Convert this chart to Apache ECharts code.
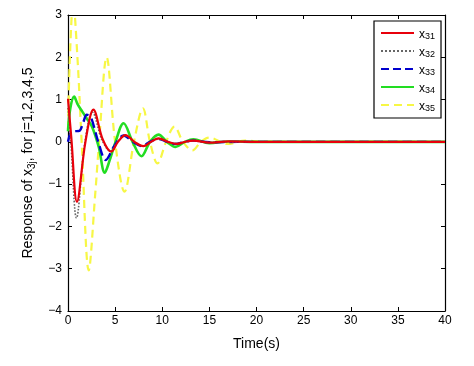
<!DOCTYPE html>
<html><head><meta charset="utf-8">
<script src="https://cdn.jsdelivr.net/npm/echarts@6/dist/echarts.min.js"></script>
<style>html,body{margin:0;padding:0;background:#fff}#c{width:474px;height:366px}</style>
</head><body><div id="c"></div>
<script>
var seriesNames = ['31', '32', '33', '34', '35'];
var xTicks = [0, 5, 10, 15, 20, 25, 30, 35, 40];
var yTicks = [-4, -3, -2, -1, 0, 1, 2, 3];
var x31 = [[0,1.02],[0.35,0.1],[0.95,-1.42],[1.85,0],[2.7,0.76],[3.7,0.05],[4.6,-0.23],[5.3,0],[6.1,0.16],[7.05,0],[8.0,-0.1],[8.8,0],[9.6,0.08],[10.6,0],[11.5,-0.05],[12.4,0],[13.3,0.03],[15,-0.02],[17,0.01],[20,0],[40,0]];
var x32 = [[0,0.8],[0.3,0],[0.9,-1.8],[1.8,0],[2.6,0.7],[3.6,0.05],[4.5,-0.22],[5.25,0],[6.05,0.15],[7.0,0],[7.95,-0.1],[8.75,0],[9.55,0.06],[11.5,-0.04],[13.3,0.02],[15,-0.01],[18,0],[40,0]];
var x33 = [[0,0.0],[0.3,0.22],[0.6,0.25],[1.2,0.26],[1.6,0.45],[2.0,0.64],[2.4,0.6],[3.25,-0.03],[4.0,-0.43],[4.9,-0.1],[5.9,0.15],[6.9,0],[7.8,-0.1],[8.7,0],[9.6,0.07],[10.5,0],[11.4,-0.05],[12.3,0],[13.2,0.03],[15,-0.01],[18,0],[40,0]];
var x34 = [[0,0.25],[0.25,0.8],[0.65,1.07],[1.0,0.9],[1.5,0.72],[2.0,0.55],[2.55,0.36],[3.25,-0.11],[3.9,-0.73],[4.4,-0.45],[5.0,-0.03],[5.9,0.44],[6.85,0],[7.8,-0.34],[8.7,0],[9.6,0.17],[10.5,0],[11.4,-0.12],[12.4,0],[13.3,0.06],[15,-0.03],[17,0.01],[20,0],[40,0]];
var x35 = [[0,0.3],[0.2,2.0],[0.55,3.3],[1.0,2.0],[1.45,0],[2.2,-3.04],[2.9,-1.2],[3.3,0],[4.1,2.0],[5.0,0],[6.0,-1.18],[7.0,0],[7.95,0.79],[8.7,0],[9.5,-0.51],[10.4,0],[11.3,0.36],[12.2,0],[13.2,-0.2],[14.1,0],[15,0.1],[16.9,-0.05],[18.8,0.03],[21,0],[40,0]];
var dataList = [x31, x32, x33, x34, x35];
var colors = ['#e8000b', '#666666', '#0000cc', '#22dd22', '#f7f745'];
var types = ['solid', 'dotted', 'dashed', 'solid', [8, 5]];
var widths = [2.2, 1.6, 2.4, 2.6, 2.2];

var font = 'Liberation Sans, Arial, sans-serif';
var chart = echarts.init(document.getElementById('c'));
var series = seriesNames.map(function (n, i) {
  return {
    name: n, type: 'line', data: dataList[i], smooth: 0.35, symbol: 'none',
    clip: true, z: 10 - i,
    lineStyle: { color: colors[i], width: widths[i], type: types[i] },
    itemStyle: { color: colors[i] }
  };
});
function axisCommon() {
  return {
    axisLine: { show: true, onZero: false, lineStyle: { color: '#000', width: 1.2 } },
    axisTick: { show: true, inside: true, length: 4, lineStyle: { color: '#000' } },
    splitLine: { show: false }
  };
}
chart.setOption({
  animation: false,
  grid: { left: 68, right: 29, top: 15, bottom: 55 },
  legend: {
    orient: 'vertical', left: 374, top: 21, width: 65,
    padding: [5, 6, 5, 6], itemGap: 3, itemWidth: 33, itemHeight: 16,
    borderColor: '#000', borderWidth: 1.2, backgroundColor: '#fff',
    itemStyle: { opacity: 0 },
    data: seriesNames,
    formatter: function (n) { return '{a|x}{b|' + n + '}'; },
    textStyle: {
      fontFamily: font, color: '#000',
      rich: { a: { fontSize: 12, fontFamily: font, verticalAlign: 'bottom', lineHeight: 16 },
              b: { fontSize: 9, fontFamily: font, verticalAlign: 'bottom', lineHeight: 10, padding: [6, 0, 0, 0] } }
    }
  },
  xAxis: [
    Object.assign(axisCommon(), {
      type: 'value', min: 0, max: 40, interval: 5,
      name: 'Time(s)', nameLocation: 'middle', nameGap: 26,
      nameTextStyle: { fontFamily: font, fontSize: 14, color: '#000' },
      axisLabel: { fontFamily: font, fontSize: 12, color: '#000', margin: 4,
        formatter: function (v) { return xTicks.indexOf(v) >= 0 ? String(v) : ''; } }
    }),
    Object.assign(axisCommon(), {
      type: 'value', min: 0, max: 40, interval: 5, position: 'top', axisLabel: { show: false }
    })
  ],
  yAxis: [
    Object.assign(axisCommon(), {
      type: 'value', min: -4, max: 3, interval: 1,
      name: 'Response of x{s|3j}, for j=1,2,3,4,5', nameLocation: 'middle', nameGap: 30,
      nameTextStyle: { fontFamily: font, fontSize: 14, color: '#000',
        rich: { s: { fontSize: 10, fontFamily: font, verticalAlign: 'bottom', padding: [8, 0, 0, 0] } } },
      axisLabel: { fontFamily: font, fontSize: 12, color: '#000', margin: 6,
        formatter: function (v) { return yTicks.indexOf(v) >= 0 ? String(v).replace('-', '\u2212') : ''; } }
    }),
    Object.assign(axisCommon(), {
      type: 'value', min: -4, max: 3, interval: 1, position: 'right', axisLabel: { show: false }
    })
  ],
  series: series
});
</script></body></html>
